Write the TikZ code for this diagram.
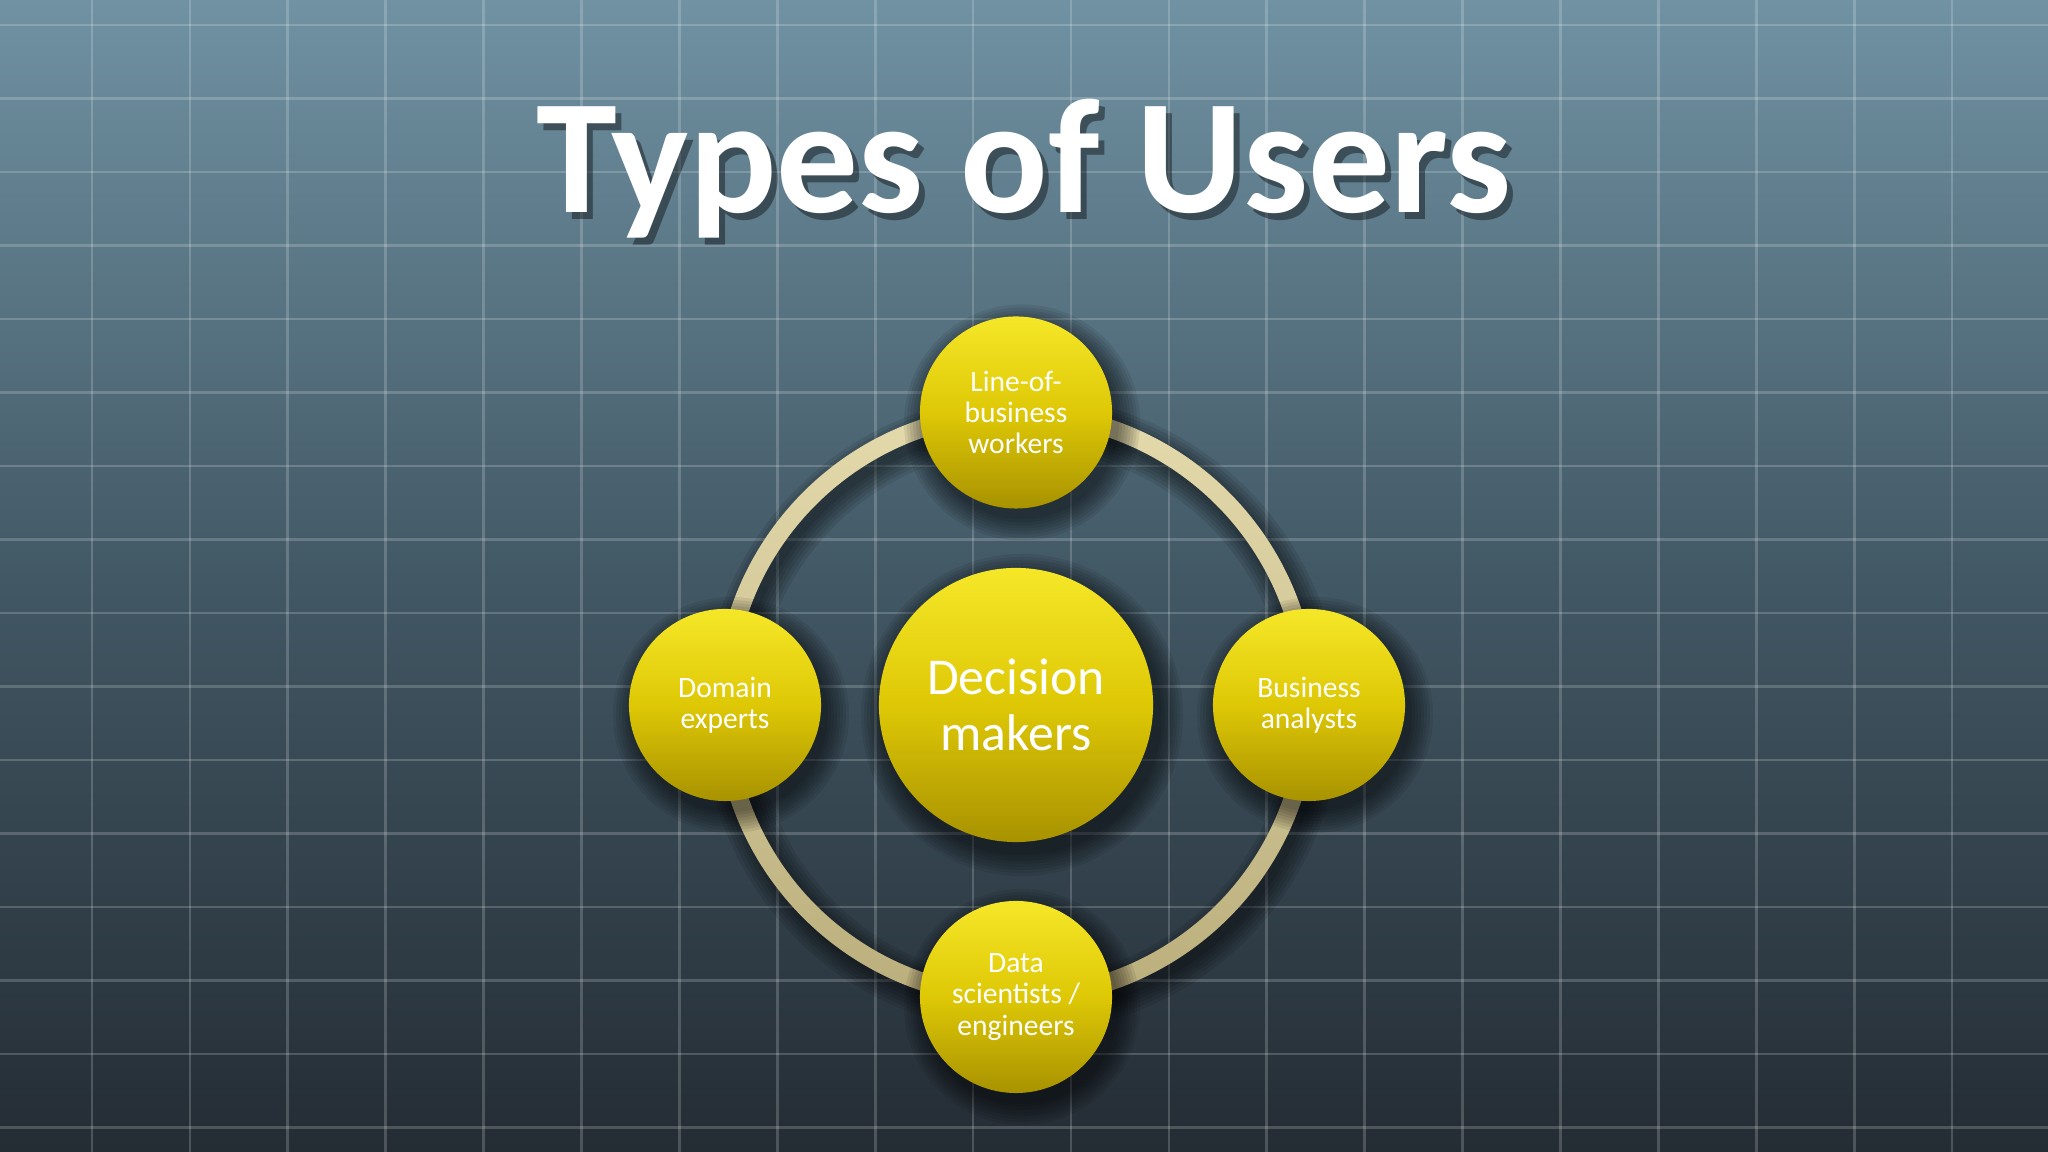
\documentclass[tikz,border=0pt]{standalone}
\usepackage{fontspec}
\setmainfont{Carlito}
\usetikzlibrary{calc}
\pgfdeclarelayer{back}
\pgfdeclarelayer{ringl}
\pgfdeclarelayer{shad}
\pgfsetlayers{back,ringl,shad,main}
\definecolor{bgtop}{RGB}{112,146,163}
\definecolor{bgmid}{RGB}{66,88,101}
\definecolor{bgbot}{RGB}{36,44,52}
\definecolor{ytop}{RGB}{245,231,40}
\definecolor{ymid}{RGB}{222,200,6}
\definecolor{ybot}{RGB}{168,146,0}
\definecolor{ringtop}{RGB}{228,218,172}
\definecolor{ringbot}{RGB}{186,174,124}
\tikzset{
  gridline/.style={draw=white, draw opacity=0.19, line width=0.75pt},
  bubble/.style={circle, inner sep=0pt, text=white, align=center,
    top color=ytop, bottom color=ybot, middle color=ymid, shading=axis},
  small/.style={bubble, minimum size=1.92cm, font=\fontsize{8.4}{8.9}\selectfont},
  big/.style={bubble, minimum size=2.74cm, font=\fontsize{14.7}{15.8}\selectfont},
  titletext/.style={inner sep=0pt, anchor=base, font=\fontsize{46.4}{50}\selectfont\bfseries},
}
\begin{document}
\begin{tikzpicture}[x=0.01cm,y=0.01cm]
\useasboundingbox (0,0) rectangle (2048,1152);

% nodes
\node[big]   (dm)  at (1016,447) {Decision\\makers};
\node[small] (lob) at (1016,739.5) {Line-of-\\business\\workers};
\node[small] (dom) at (725,447) {Domain\\experts};
\node[small] (ba)  at (1309,447) {Business\\analysts};
\node[small] (ds)  at (1016,155) {Data\\scientists /\\engineers};

% title with shadow
\node[titletext, text=black, opacity=0.4] (titlesh) at (1030,932) {Types of Users};
\node[titletext, text=white] (title) at (1024,939) {Types of Users};

% background and grid
\begin{pgfonlayer}{back}
  \shade[top color=bgtop, bottom color=bgbot, middle color=bgmid] (0,0) rectangle (2048,1152);
  \foreach \i in {0,...,19}
    \draw[gridline] ({92+97.9*\i},0) -- ({92+97.9*\i},1152);
  \foreach \j in {0,...,15}
    \draw[gridline] (0,{1127-73.5*\j}) -- (2048,{1127-73.5*\j});
\end{pgfonlayer}

% ring and its shadow
\begin{pgfonlayer}{ringl}
  \foreach \k in {0,...,5}
    \draw[black, opacity=0.09, line width={(0.18+0.07*\k)*1cm}] ($(dm)+(6,-9)$) circle (292);
  \shade[top color=ringtop, bottom color=ringbot, even odd rule]
    (dm) circle (301) (dm) circle (283);
\end{pgfonlayer}

% circle shadows
\begin{pgfonlayer}{shad}
  \foreach \n in {lob,dom,ba,ds}
    \foreach \k in {0,...,7}
      \fill[black, opacity=0.075] ($(\n)+(6,-10)$) circle ({96+22-3*\k});
  \foreach \k in {0,...,7}
    \fill[black, opacity=0.075] ($(dm)+(6,-10)$) circle ({137+24-3*\k});
\end{pgfonlayer}
\end{tikzpicture}
\end{document}
